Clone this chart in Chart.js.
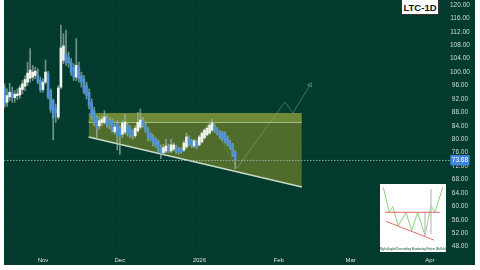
<!DOCTYPE html>
<html>
<head>
<meta charset="utf-8">
<script src="https://cdn.jsdelivr.net/npm/chart.js@4.4.1/dist/chart.umd.min.js"></script>
<style>
  html, body { margin: 0; padding: 0; background: #fff; }
  #wrap { position: relative; width: 480px; height: 270px; overflow: hidden; }
  #main { position: absolute; left: 4px; top: 0; width: 471px; height: 265px; background: #023a2e; }
  #tag { position: absolute; left: 401px; top: -1px; width: 36px; height: 14px; background: #fff; border: 1px solid #333;
         font: bold 9.5px "Liberation Sans", Arial, sans-serif; color: #111; text-align: center; line-height: 15px; }
  #inset { position: absolute; left: 380px; top: 184px; width: 66px; height: 68px; background: #fff; }
</style>
</head>
<body>
<div id="wrap">
  <div id="main"><canvas id="chart"></canvas></div>
  <div id="tag">LTC-1D</div>
  <div id="inset"><canvas id="pattern"></canvas></div>
</div>
<script>
// daily candles, day 0 = 1 Nov 2025
const days = [-15, -14, -13, -12, -11, -10, -9, -8, -7, -6, -5, -4, -3, -2, -1,
  0, 1, 2, 3, 4, 5, 6, 7, 8, 9, 10, 11, 12, 13, 14, 15, 16, 17, 18, 19,
  20, 21, 22, 23, 24, 25, 26, 27, 28, 29, 30, 31, 32, 33, 34, 35, 36, 37, 38, 39,
  40, 41, 42, 43, 44, 45, 46, 47, 48, 49, 50, 51, 52, 53, 54, 55, 56, 57, 58, 59,
  60, 61, 62, 63, 64, 65, 66, 67, 68, 69, 70, 71, 72, 73, 74, 75];

const opens = [95.5, 91.0, 92.6, 94.0, 92.4, 93.0, 93.2, 94.8, 95.8, 97.0, 98.2, 98.5, 99.0, 99.1, 97.6,
  94.8, 97.0, 99.5, 94.5, 91.6, 89.3, 86.6, 95.5, 103.5, 105.5,
  104.5, 103.0, 101.5, 98.5, 101.5, 99.0, 98.0, 96.0, 94.0, 91.0,
  88.5, 86.5, 84.0, 85.0, 85.0, 86.3, 85.5, 85.5, 82.2, 84.8,
  83.3, 81.5, 82.1, 84.2, 83.3, 82.5, 81.0, 82.5, 83.6, 85.5,
  84.2, 82.7, 81.5, 80.7, 80.0, 79.2, 77.7, 76.0, 76.5, 77.8,
  76.5, 77.0, 77.7, 77.0, 77.0, 76.8, 77.7, 80.5, 79.5, 78.0,
  79.2, 78.3, 79.2, 80.4, 81.3, 81.8, 82.7, 84.0, 83.0, 82.1,
  82.0, 81.8, 80.5, 79.2, 78.3, 76.2];

const highs = [96.5, 95.0, 96.7, 95.5, 94.5, 95.0, 96.0, 97.5, 99.0, 103.0, 107.0, 102.0, 101.5, 101.0, 98.5,
  98.0, 103.6, 100.2, 95.0, 92.0, 90.5, 96.0, 114.0, 111.5, 112.5,
  106.0, 104.0, 102.5, 110.0, 103.0, 100.0, 99.0, 97.0, 95.0, 92.0,
  89.5, 87.0, 86.5, 87.0, 88.5, 87.0, 86.5, 86.0, 84.5, 85.5,
  84.0, 85.5, 87.5, 85.0, 84.0, 83.0, 84.0, 88.0, 89.0, 86.5,
  85.0, 83.5, 82.0, 81.5, 80.5, 79.8, 78.3, 78.5, 80.0, 78.5,
  80.0, 79.0, 78.2, 77.6, 77.5, 79.5, 81.8, 81.0, 80.0, 80.0,
  79.8, 81.2, 82.3, 83.2, 84.0, 85.1, 86.0, 84.5, 83.5, 82.6,
  82.4, 82.2, 81.0, 79.7, 78.8, 76.6];

const lows = [89.5, 89.8, 91.5, 91.0, 91.0, 91.8, 92.2, 93.5, 94.5, 96.0, 97.0, 97.5, 98.0, 96.5, 94.0,
  94.0, 96.5, 92.0, 88.0, 79.8, 85.0, 86.0, 95.0, 102.5, 102.0,
  101.5, 99.0, 97.5, 97.5, 97.0, 95.5, 93.5, 92.0, 89.0, 86.0,
  84.0, 80.5, 83.0, 84.0, 84.5, 83.5, 83.0, 82.0, 81.5, 76.8,
  75.5, 80.5, 81.5, 81.0, 80.5, 80.0, 80.5, 82.0, 83.0, 83.5,
  82.0, 79.5, 79.5, 78.0, 77.5, 76.0, 74.2, 75.5, 76.0, 76.0,
  76.0, 76.5, 75.8, 75.5, 75.8, 76.3, 77.2, 78.0, 77.5, 77.5,
  77.2, 78.0, 78.8, 80.0, 81.0, 81.5, 82.3, 82.0, 81.3, 80.2,
  79.6, 78.8, 78.0, 77.0, 74.8, 71.2];

const closes = [90.2, 93.0, 94.0, 92.4, 93.4, 93.5, 95.3, 96.5, 97.8, 99.7, 100.6, 100.0, 100.3, 97.0, 94.7,
  97.0, 100.0, 92.6, 88.8, 86.4, 87.8, 95.3, 107.2, 107.8, 102.8,
  102.7, 100.0, 98.5, 102.0, 98.0, 97.0, 94.0, 93.0, 90.0, 87.0,
  85.0, 83.3, 85.5, 85.9, 86.6, 84.5, 84.2, 82.8, 83.6, 81.3,
  80.7, 84.8, 85.1, 82.0, 81.3, 80.8, 83.3, 85.0, 85.7, 84.0,
  82.5, 80.4, 80.0, 78.9, 78.0, 76.8, 75.9, 77.5, 78.0, 76.5,
  78.3, 78.3, 76.2, 76.0, 76.3, 78.9, 80.7, 78.5, 78.0, 79.5,
  77.7, 80.7, 81.8, 82.7, 83.3, 84.2, 84.8, 82.5, 81.8, 80.7,
  80.0, 79.2, 78.5, 77.4, 75.3, 73.68];

const lastPrice = 73.68;

// axis ticks
const tickDays = [0, 30, 61, 92, 120, 151];
const tickLabels = ['Nov', 'Dec', '2026', 'Feb', 'Mar', 'Apr'];
const priceTicks = [48, 52, 56, 60, 64, 68, 72, 76, 80, 84, 88, 92, 96, 100, 104, 108, 112, 116, 120];
const xMin = -15.2, xMax = 158.8;

// drawn pattern: flat top band and falling lower trend line
const patternX = [17.8, 101.0];
const bandTop = [87.85, 87.85];
const bandLine = [85.15, 85.15];
const trendLine = [80.65, 65.75];

// projected path after the last candle
const pathX = [75.7, 94.4, 97.5, 104.2];
const pathY = [71.4, 91.1, 87.8, 96.2];
const guideX = [65.9, 75.7];
const guideY = [84.8, 71.4];

const xy = (xs, ys) => xs.map((x, i) => ({ x: x, y: ys[i] }));
const up = closes.map((c, i) => c >= opens[i]);

// keep the plot area flush with the frame edges
const noPad = (scale) => {
  scale.paddingTop = 0; scale.paddingBottom = 0;
  scale.paddingLeft = 0; scale.paddingRight = 0;
};

new Chart(document.getElementById('chart'), {
  type: 'bar',
  data: {
    datasets: [
      {
        type: 'line', data: xy(patternX, bandTop), borderWidth: 0, pointRadius: 0,
        fill: '+1', backgroundColor: '#6f8a37', order: 10
      },
      {
        type: 'line', data: xy(patternX, bandLine), borderColor: '#c3d49a', borderWidth: 1.5, pointRadius: 0,
        fill: '+1', backgroundColor: '#4f6c2c', order: 10
      },
      {
        type: 'line', data: xy(patternX, trendLine), borderColor: '#c9dcc9', borderWidth: 1.5, pointRadius: 0,
        fill: false, order: 9
      },
      {
        type: 'line', data: xy(guideX, guideY), borderColor: 'rgba(140,175,150,0.35)', borderWidth: 0.8,
        pointRadius: 0, fill: false, order: 8
      },
      {
        type: 'line', data: xy(pathX, pathY), borderColor: 'rgba(140,175,150,0.6)', borderWidth: 0.8,
        pointRadius: [0, 0, 0, 2.5], pointStyle: 'triangle', pointRotation: 31,
        pointBackgroundColor: 'rgba(0,0,0,0)', pointBorderColor: 'rgba(140,175,150,0.7)', pointBorderWidth: 0.8,
        fill: false, order: 8
      },
      {
        type: 'line', data: [{ x: xMin, y: lastPrice }, { x: xMax, y: lastPrice }],
        borderColor: 'rgba(175,200,192,0.75)', borderWidth: 1, borderDash: [1.5, 1.5],
        pointRadius: 0, fill: false, order: 4
      },
      {
        // wicks
        data: days.map((d, i) => ({ x: d, y: [lows[i], highs[i]] })),
        backgroundColor: 'rgba(160,184,176,0.7)', barThickness: 1, grouped: false, order: 3
      },
      {
        // bodies
        data: days.map((d, i) => ({ x: d, y: [opens[i], closes[i]] })),
        backgroundColor: up.map(u => u ? '#f2f5ee' : '#4f93d8'),
        barThickness: 2, grouped: false, minBarLength: 1, order: 2
      }
    ]
  },
  options: {
    responsive: true,
    maintainAspectRatio: false,
    animation: false,
    devicePixelRatio: 1,
    layout: { padding: 0, autoPadding: false },
    scales: {
      x: {
        type: 'linear', min: xMin, max: xMax, offset: false,
        afterBuildTicks: (scale) => { scale.ticks = tickDays.map(v => ({ value: v })); },
        afterFit: (scale) => { scale.height = 12; noPad(scale); },
        grid: { color: 'rgba(255,255,255,0.025)', drawTicks: false, offset: false },
        border: { display: false },
        ticks: {
          autoSkip: false, maxRotation: 0, padding: 4, color: '#d8e2de',
          font: { family: 'Liberation Sans', size: 6 },
          callback: (value, index) => tickLabels[index]
        }
      },
      y: {
        type: 'linear', position: 'right', min: 46.1, max: 121.49,
        afterBuildTicks: (scale) => {
          scale.ticks = priceTicks.map(v => ({ value: v })).concat([{ value: lastPrice }]);
        },
        afterFit: (scale) => { scale.width = 25; noPad(scale); },
        grid: { color: 'rgba(255,255,255,0.02)', drawTicks: false },
        border: { display: false },
        ticks: {
          autoSkip: false, crossAlign: 'center', padding: 0,
          color: (ctx) => ctx.tick && ctx.tick.value === lastPrice ? '#ffffff' : '#d4dfdb',
          showLabelBackdrop: (ctx) => ctx.tick && ctx.tick.value === lastPrice,
          backdropColor: '#3d86dc',
          backdropPadding: { left: 1.5, right: 1.5, top: 1.5, bottom: 1 },
          font: { family: 'Liberation Sans', size: 6.5 },
          callback: (value) => value.toFixed(2)
        }
      }
    },
    plugins: {
      legend: { display: false },
      tooltip: { enabled: false }
    }
  }
});

// small reference sketch of the pattern (inset, local pixel units)
const zigX = [3.3, 9.3, 12.7, 18.3, 26, 31.7, 37.7, 45, 51, 55, 62.7];
const zigY = [3.3, 28.3, 22.7, 41.7, 28.3, 46.7, 28.3, 51.7, 21.7, 28.3, 3.3];
const resistX = [5, 60];
const resistY = [28.3, 28.3];
const supportX = [6, 53.7];
const supportY = [37.3, 56];
const markX = [45, 45, null, 51, 51];
const markY = [27.7, 51.7, null, 5, 50];

new Chart(document.getElementById('pattern'), {
  type: 'line',
  data: {
    datasets: [
      { data: xy(resistX, resistY), borderColor: '#e06b6b', borderWidth: 1, pointRadius: 0 },
      { data: xy(supportX, supportY), borderColor: '#e06b6b', borderWidth: 1, pointRadius: 0 },
      { data: markX.map((x, i) => x === null ? { x: null, y: null } : { x: x, y: markY[i] }),
        borderColor: '#c4c4c4', borderWidth: 0.6, pointRadius: 0, spanGaps: false },
      { data: xy(zigX, zigY), borderColor: '#8fd07e', borderWidth: 1, pointRadius: 0 }
    ]
  },
  options: {
    responsive: true,
    maintainAspectRatio: false,
    animation: false,
    devicePixelRatio: 1,
    layout: { padding: 0, autoPadding: false },
    scales: {
      x: { type: 'linear', min: 0, max: 66, display: false },
      y: { type: 'linear', min: 0, max: 63.4, reverse: true, display: false }
    },
    plugins: {
      legend: { display: false },
      tooltip: { enabled: false },
      title: {
        display: true, position: 'bottom', text: 'Right-Angled Descending Broadening Pattern (Bullish)',
        color: '#3f7560', font: { family: 'Liberation Sans', size: 3 }, padding: { top: 0, bottom: 1 }
      }
    }
  }
});
</script>
</body>
</html>
